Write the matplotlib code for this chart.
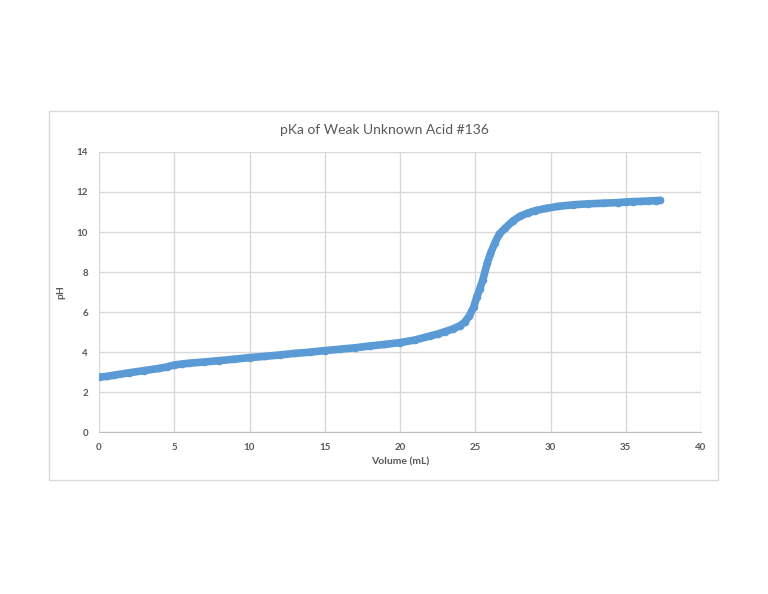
import matplotlib.pyplot as plt
from matplotlib.patches import Rectangle

# titration readings
volume = [0.0, 0.5, 1.0, 2.0, 3.0, 4.0, 4.5, 5.0, 5.5, 6.0, 7.0, 8.0, 9.0, 10.0,
          11.0, 12.0, 13.0, 14.0, 15.0, 16.0, 17.0, 18.0, 19.0, 20.0, 21.0,
          22.0, 22.5, 23.0, 23.5, 24.0, 24.3, 24.6, 24.9, 25.1, 25.3, 25.5,
          25.8, 26.0, 26.3, 26.6, 27.0, 27.5, 28.0, 28.5, 29.0, 29.7, 30.5,
          31.5, 32.5, 33.5, 34.5, 35.0, 35.5, 36.0, 36.5, 37.0, 37.3]
ph = [2.74, 2.78, 2.84, 2.96, 3.07, 3.18, 3.25, 3.35, 3.40, 3.44, 3.50, 3.57,
      3.64, 3.72, 3.78, 3.85, 3.93, 3.99, 4.07, 4.14, 4.21, 4.30, 4.38, 4.47,
      4.60, 4.80, 4.90, 5.02, 5.15, 5.32, 5.50, 5.80, 6.25, 6.75, 7.15, 7.60,
      8.45, 8.90, 9.45, 9.90, 10.20, 10.55, 10.80, 10.95, 11.07, 11.18, 11.28,
      11.36, 11.41, 11.44, 11.47, 11.50, 11.52, 11.53, 11.55, 11.57, 11.58]

xticks = [0, 5, 10, 15, 20, 25, 30, 35, 40]
yticks = [0, 2, 4, 6, 8, 10, 12, 14]

plt.rcParams['font.family'] = ['Lato', 'DejaVu Sans']
text_color = '#595959'
grid_color = '#D9D9D9'
blue = '#5B9BD5'

fig = plt.figure(figsize=(7.68, 5.94), dpi=100)
fig.patches.append(Rectangle((49 / 768, 1 - 480 / 594), 669 / 768, 369 / 594,
                             transform=fig.transFigure, fill=False,
                             edgecolor=grid_color, linewidth=1))

ax = fig.add_axes([99 / 768, 1 - 432 / 594, 602 / 768, 280 / 594])
ax.plot(volume, ph, color=blue, linewidth=5.5, solid_capstyle='round',
        solid_joinstyle='round', marker='o', markersize=5.5, markeredgewidth=0)

ax.set_xlim(0, 40)
ax.set_ylim(0, 14)
ax.set_xticks(xticks)
ax.set_yticks(yticks)
ax.grid(True, color=grid_color, linewidth=1)
ax.set_axisbelow(True)
for side in ['top', 'right', 'left']:
    ax.spines[side].set_visible(False)
ax.spines['bottom'].set_color('#BFBFBF')
ax.tick_params(length=0, labelsize=7, labelcolor=text_color, pad=8)
for lab in ax.get_xticklabels() + ax.get_yticklabels():
    lab.set_fontweight('bold')

ax.set_xlabel('Volume (mL)', fontsize=7.5, color=text_color, fontweight='bold', labelpad=4)
ax.set_ylabel('pH', fontsize=7.5, color=text_color, fontweight='bold', labelpad=8)

fig.text(0.5, 1 - 130 / 594, 'pKa of Weak Unknown Acid #136', ha='center',
         va='center', fontsize=10, color=text_color)

fig.savefig('out.png', dpi=100)
